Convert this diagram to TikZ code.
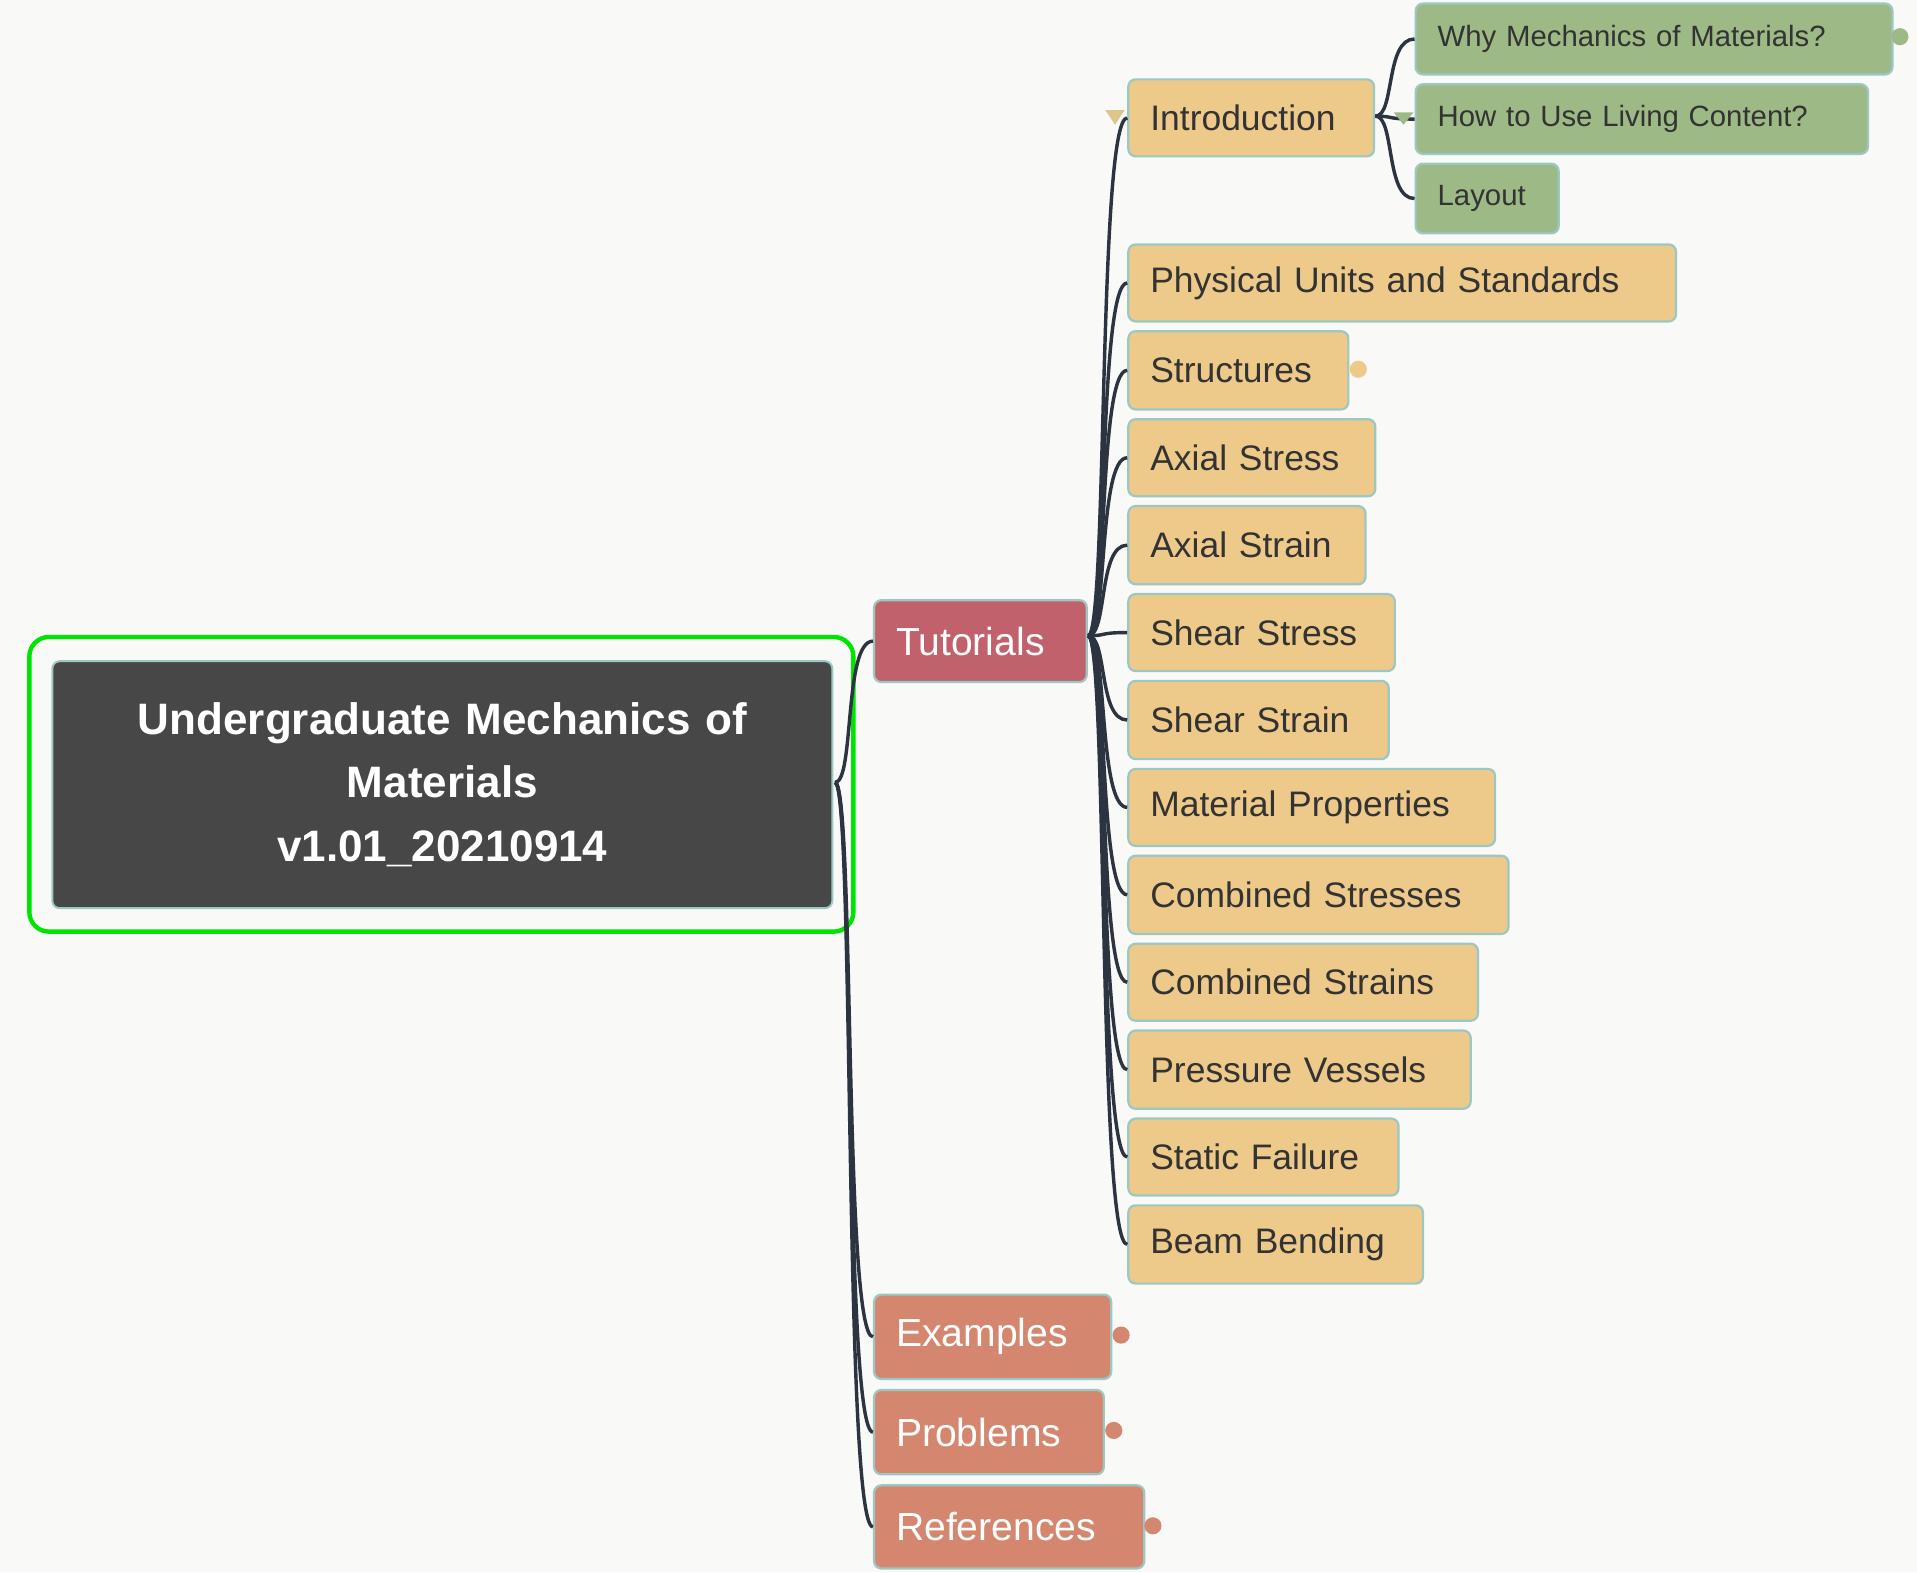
\documentclass[tikz,border=0pt]{standalone}
\usepackage{fontspec}
\setmainfont{Liberation Sans}
\usetikzlibrary{calc}
\definecolor{bg}{HTML}{F9F9F7}
\definecolor{yel}{HTML}{EDC98A}
\definecolor{grn}{HTML}{9DB985}
\definecolor{tut}{HTML}{C0616B}
\definecolor{sal}{HTML}{D4876E}
\definecolor{edge}{HTML}{9CC8C4}
\definecolor{dark}{HTML}{474747}
\definecolor{ln}{HTML}{2B3440}
\tikzset{
 base/.style={draw=edge,line width=0.9pt,rounded corners=3pt,inner ysep=0pt,align=left},
 ybox/.style={base,fill=yel,text=black!80,font=\fontsize{14.5}{17}\selectfont},
 gbox/.style={base,fill=grn,text=black!80,font=\fontsize{12}{14}\selectfont},
 tbox/.style={base,fill=tut,text=white,font=\fontsize{16}{19}\selectfont},
 sbox/.style={base,fill=sal,text=white,font=\fontsize{16}{19}\selectfont},
 conn/.style={draw=ln,line width=1.4pt},
 dotm/.style={circle,inner sep=0pt,minimum size=7pt},
}
\newcommand\bx[7]{\pgfmathsetmacro\bw{(#5-#3)*0.5-18}\pgfmathsetmacro\bh{(#6-#4)*0.5}%
 \node[#2,anchor=north west,text width=\bw pt,minimum height=\bh pt,inner xsep=9pt] (#1) at (#3,#4) {#7};}
\newcommand\cn[2]{\draw[conn] (#1) .. controls ($(#1)+(8pt,0)$) and ($(#2.west)+(-12pt,0)$) .. (#2.west);}
\begin{document}
\begin{tikzpicture}[x=0.5pt,y=-0.5pt]
\fill[bg] (0,0) rectangle (1568,1286);
\useasboundingbox (0,0) rectangle (1568,1286);
% root
\draw[green!90!black,line width=1.8pt,rounded corners=8pt] (24,521) rectangle (698,762);
\pgfmathsetmacro\rw{(680-42)*0.5}
\node[fill=dark,draw=edge,line width=0.8pt,rounded corners=3pt,anchor=north west,minimum width=\rw pt,minimum height=101pt,text width=290pt,align=center,text=white,font=\bfseries\fontsize{18}{26}\selectfont] (root) at (42,540) {Undergraduate Mechanics of\\Materials\\v1.01\_20210914};
% level 1
\bx{tut}{tbox}{714}{490}{888}{557}{Tutorials}
\bx{ex}{sbox}{714}{1058}{908}{1127}{Examples}
\bx{pr}{sbox}{714}{1136}{902}{1205}{Problems}
\bx{re}{sbox}{714}{1214}{935}{1282}{References}
% level 2
\bx{intro}{ybox}{922}{64}{1123}{127}{Introduction}
\bx{phys}{ybox}{922}{199}{1370}{262}{Physical Units and Standards}
\bx{struc}{ybox}{922}{270}{1102}{334}{Structures}
\bx{axs}{ybox}{922}{342}{1124}{405}{Axial Stress}
\bx{axn}{ybox}{922}{413}{1116}{477}{Axial Strain}
\bx{shs}{ybox}{922}{485}{1140}{548}{Shear Stress}
\bx{shn}{ybox}{922}{556}{1135}{620}{Shear Strain}
\bx{mat}{ybox}{922}{628}{1222}{691}{Material Properties}
\bx{cst}{ybox}{922}{699}{1233}{763}{Combined Stresses}
\bx{csn}{ybox}{922}{771}{1208}{834}{Combined Strains}
\bx{pv}{ybox}{922}{842}{1202}{906}{Pressure Vessels}
\bx{sf}{ybox}{922}{914}{1143}{977}{Static Failure}
\bx{bb}{ybox}{922}{985}{1163}{1049}{Beam Bending}
% level 3
\bx{why}{gbox}{1157}{2}{1547}{60}{Why Mechanics of Materials?}
\bx{how}{gbox}{1157}{68}{1527}{125}{How to Use Living Content?}
\bx{lay}{gbox}{1157}{133}{1274}{190}{Layout}
% connectors
\coordinate (pr0) at (683,640);
\coordinate (pt) at (890,520);
\coordinate (pi) at (1125,95);
\foreach \c in {tut,ex,pr,re} {\cn{pr0}{\c}}
\foreach \c in {intro,phys,struc,axs,axn,shs,shn,mat,cst,csn,pv,sf,bb} {\cn{pt}{\c}}
\foreach \c in {why,how,lay} {\cn{pi}{\c}}
% markers
\node[dotm,fill=yel] (d1) at (1111,302) {};
\node[dotm,fill=grn] (d2) at (1554,30) {};
\node[dotm,fill=sal] (d3) at (917,1092) {};
\node[dotm,fill=sal] (d4) at (911,1170) {};
\node[dotm,fill=sal] (d5) at (943,1248) {};
\fill[yel!80!grn] (904,90) -- (920,90) -- (912,102) -- cycle;
\fill[grn] (1140,92) -- (1156,92) -- (1148,102) -- cycle;
\end{tikzpicture}
\end{document}
